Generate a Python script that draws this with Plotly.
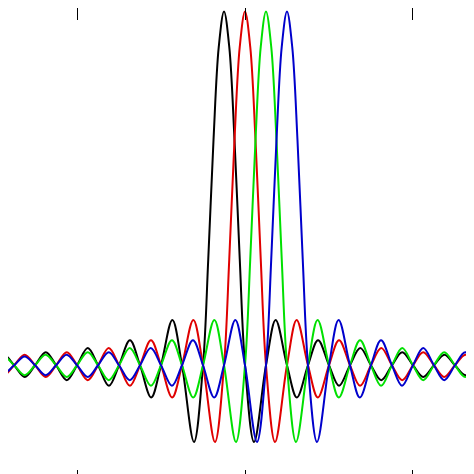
import plotly.graph_objects as go

# Key points of one pulse: offset from peak, height
pulse_x = [0, 0.25, 0.5, 0.75, 1, 1.43, 2, 2.46, 3, 3.47, 4, 4.48, 5, 5.48, 6, 6.49,
           7, 7.49, 8, 8.49, 9, 9.49, 10, 10.5, 11, 11.5, 12, 12.5, 13, 13.5, 14]
pulse_y = [1.0, 0.90, 0.637, 0.30, 0, -0.217, 0, 0.128, 0, -0.091, 0, 0.071, 0, -0.058,
           0, 0.049, 0, -0.042, 0, 0.037, 0, -0.033, 0, 0.030, 0, -0.028, 0, 0.025, 0, -0.023, 0]

peaks = [-1, 0, 1, 2]
colors = ["#000000", "#e00000", "#00e000", "#0000cc"]

fig = go.Figure()
for p, c in zip(peaks, colors):
    xs = [p - v for v in pulse_x[::-1]] + [p + v for v in pulse_x[1:]]
    ys = pulse_y[::-1] + pulse_y[1:]
    fig.add_trace(go.Scatter(x=xs, y=ys, mode="lines", line=dict(color=c, width=2, shape="spline", smoothing=1.0),
                             showlegend=False))

fig.update_layout(
    width=474, height=474,
    margin=dict(l=0, r=0, t=0, b=0, pad=0, autoexpand=False),
    plot_bgcolor="white", paper_bgcolor="white",
    xaxis=dict(range=[-11.29, 11.29], showgrid=False, zeroline=False, showticklabels=False,
               ticks="inside", ticklen=12, tickcolor="black", tickvals=[-8, 0, 8], mirror="ticks",
               showline=False, automargin=False),
    yaxis=dict(range=[-0.33, 1.01], showgrid=False, zeroline=False, showticklabels=False,
               ticks="", showline=False, automargin=False),
)
fig.write_html("out.html")
